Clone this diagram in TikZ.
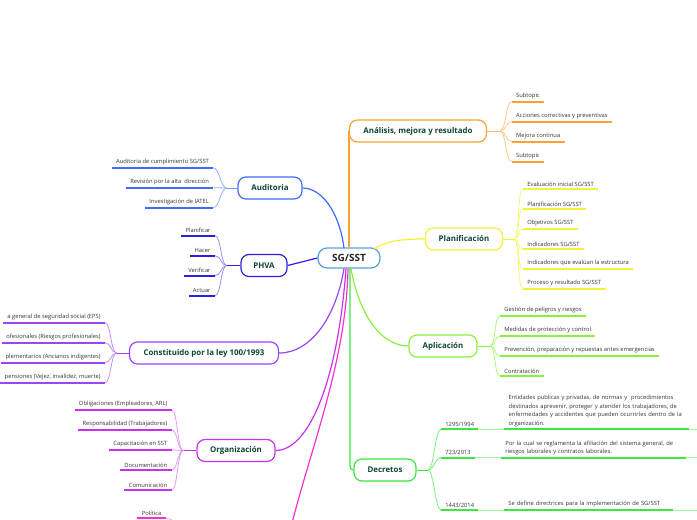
\documentclass[tikz,border=0pt]{standalone}
\usepackage{fontspec}
\setmainfont{Open Sans}
\usetikzlibrary{positioning}

\definecolor{topictext}{HTML}{0E4535}
\definecolor{cCen}{HTML}{5AA3D6}
\definecolor{cAna}{HTML}{F7A234}
\definecolor{cPla}{HTML}{F2F23A}
\definecolor{cApl}{HTML}{8BF03C}
\definecolor{cDec}{HTML}{3CE83C}
\definecolor{cAud}{HTML}{3D6BFF}
\definecolor{cPhv}{HTML}{2B1FE0}
\definecolor{cCon}{HTML}{9B45F5}
\definecolor{cOrg}{HTML}{C832EE}
\definecolor{cPol}{HTML}{FF2ECF}

\tikzset{
  mainnode/.style={draw=cCen, fill=white, line width=1.3pt, rounded corners=9pt,
    minimum width=62pt, minimum height=20pt, inner sep=0pt,
    font=\bfseries\fontsize{10}{12}\selectfont, text=black!85},
  topic/.style={draw, fill=white, line width=1.2pt, rounded corners=8pt,
    minimum height=22pt, inner sep=0pt, text=topictext,
    font=\bfseries\fontsize{7.9}{9}\selectfont},
  sub/.style={font=\fontsize{5.8}{8.4}\selectfont, text=black!80,
    inner xsep=4pt, inner ysep=2.5pt},
  uline/.style={line width=1.8pt},
  fan/.style={line width=0.8pt},
  branch/.style={line width=1.2pt},
}

\begin{document}
\begin{tikzpicture}[x=1pt,y=-1pt,thick]
\clip (0,0) rectangle (697,520);

% centre and main topics
\node[mainnode] (sg) at (349,258) {SG/SST};
\node[topic, draw=cAna, minimum width=137pt] (ana) at (418,131) {Análisis, mejora y resultado};
\node[topic, draw=cPla, minimum width=77pt] (pla) at (464,239) {Planificación};
\node[topic, draw=cApl, minimum width=68pt] (apl) at (443,346) {Aplicación};
\node[topic, draw=cDec, minimum width=62pt] (dec) at (385,470) {Decretos};
\node[topic, draw=cAud, minimum width=64pt] (aud) at (270,188) {Auditoria};
\node[topic, draw=cPhv, minimum width=46pt] (phv) at (264,265.5) {PHVA};
\node[topic, draw=cCon, minimum width=149pt] (con) at (204,353) {Constituido por la ley 100/1993};
\node[topic, draw=cOrg, minimum width=78pt] (org) at (236,450.5) {Organización};

% branches from the centre
\coordinate (sgN) at (344,248);
\coordinate (sgNE) at (374,249);
\coordinate (sgS) at (350,268);
\coordinate (pol) at (286,548);
\draw[branch, cAna] (sg.north) -- (sg.north |- ana.west) -- (ana.west);
\draw[branch, cPla] (sgNE) .. controls +(15,-9) and +(-22,0) .. (pla.west);
\draw[branch, cApl] ([xshift=2pt]sg.south) .. controls +(8,45) and +(-28,0) .. (apl.west);
\draw[branch, cDec] (sgS) -- (350,458) .. controls +(0,8) and +(-4,0) .. (dec.west);
\draw[branch, cAud] (sgN) .. controls +(-5,-38) and +(18,0) .. (aud.east);
\draw[branch, cPhv] (sg.west) -- (phv.east);
\draw[branch, cCon] ([xshift=-5pt]sg.south) .. controls +(-8,48) and +(32,0) .. (con.east);
\draw[branch, cOrg] ([xshift=-3pt]sg.south) .. controls +(-8,110) and +(34,0) .. (org.east);
\draw[branch, cPol] ([xshift=-1pt]sg.south) .. controls +(-2,100) and +(20,-90) .. (pol);

% Analisis, mejora y resultado
\node[sub, anchor=south west] (ana1) at (511.7,101.7) {Subtopic};
\node[sub, anchor=south west] (ana2) at (511.7,121.7) {Acciones correctivas y preventivas};
\node[sub, anchor=south west] (ana3) at (511.7,141.7) {Mejora continua};
\node[sub, anchor=south west] (ana4) at (511.7,161.7) {Subtopic};
\coordinate (anaH) at (500,131);
\draw[fan, cAna!70] (ana.east) -- (anaH);
\foreach \n in {ana1,ana2,ana3,ana4} {
  \draw[fan, cAna!60] (anaH) .. controls +(6,0) and +(-6,0) .. (\n.south west);
  \draw[uline, cAna] (\n.south west) -- (\n.south east);
}

% Planificacion
\node[sub, anchor=south west] (pla1) at (523,189) {Evaluación inicial SG/SST};
\node[sub, anchor=south west] (pla2) at (523,209) {Planificación SG/SST};
\node[sub, anchor=south west] (pla3) at (523,229) {Objetivos SG/SST};
\node[sub, anchor=south west] (pla4) at (523,249) {Indicadores SG/SST};
\node[sub, anchor=south west] (pla5) at (523,269) {Indicadores que evalúan la estructura};
\node[sub, anchor=south west] (pla6) at (523,289) {Proceso y resultado SG/SST};
\coordinate (plaH) at (514,239);
\draw[fan, cPla] (pla.east) -- (plaH);
\foreach \n in {pla1,pla2,pla3,pla4,pla5,pla6} {
  \draw[fan, cPla!70] (plaH) .. controls +(6,0) and +(-6,0) .. (\n.south west);
  \draw[uline, cPla] (\n.south west) -- (\n.south east);
}

% Aplicacion
\node[sub, anchor=south west] (apl1) at (500,316) {Gestión de peligros y riesgos};
\node[sub, anchor=south west] (apl2) at (500,336) {Medidas de protección y control};
\node[sub, anchor=south west] (apl3) at (500,356) {Prevención, preparación y repuestas antes emergencias};
\node[sub, anchor=south west] (apl4) at (500,376) {Contratación};
\coordinate (aplH) at (490,346);
\draw[fan, cApl] (apl.east) -- (aplH);
\foreach \n in {apl1,apl2,apl3,apl4} {
  \draw[fan, cApl!70] (aplH) .. controls +(6,0) and +(-6,0) .. (\n.south west);
  \draw[uline, cApl] (\n.south west) -- (\n.south east);
}

% Decretos
\node[sub, anchor=south west] (dec1) at (441,429.3) {1295/1994};
\node[sub, anchor=south west] (dec2) at (441,457.7) {723/2013};
\node[sub, anchor=south west] (dec3) at (441,510) {1443/2014};
\coordinate (decH) at (428,470);
\coordinate (e1) at (697,429.3);
\coordinate (e2) at (697,457.7);
\coordinate (e3) at (697,510);
\draw[fan, cDec] (dec.east) -- (decH);
\draw[line width=0.6pt, cDec!45] (dec1.south west) -- (e1);
\draw[line width=0.6pt, cDec!45] (dec2.south west) -- (e2);
\draw[line width=0.6pt, cDec!45] (dec3.south west) -- (e3);
\foreach \n in {dec1,dec2,dec3} {
  \draw[fan, cDec!70] (decH) .. controls +(6,0) and +(-6,0) .. (\n.south west);
  \draw[uline, cDec] (\n.south west) -- (\n.south east);
}
\node[sub, anchor=south west, text width=176pt, align=left] (dtx1) at (504.3,429.3)
  {Entidades publicas y privadas, de normas y~ procedimientos\\
   destinados aprevenir, proteger y atender los trabajadores, de\\
   enfermedades y accidentes que pueden ocurrirles dentro de la\\
   organización.};
\node[sub, anchor=south west, text width=176pt, align=left] (dtx2) at (501,457.7)
  {Por la cual se reglamenta la afiliación del sistema general, de\\
   riesgos laborales y contratos laborales.};
\node[sub, anchor=south west, text width=160pt, align=left] (dtx3) at (504,510)
  {Se define directrices para la implementación de SG/SST};
\foreach \n in {dtx1,dtx2,dtx3}
  \draw[uline, cDec] (\n.south west) -- (\n.south east);

% Auditoria
\node[sub, anchor=south east] (aud1) at (213.3,167.7) {Auditoria de cumplimiento SG/SST};
\node[sub, anchor=south east] (aud2) at (213.3,187.7) {Revisión por la alta~ dirección};
\node[sub, anchor=south east] (aud3) at (213.3,207.7) {Investigación de IATEL};
\coordinate (audH) at (226.7,188);
\draw[fan, cAud!70] (aud.west) -- (audH);
\foreach \n in {aud1,aud2,aud3} {
  \draw[fan, cAud!55] (audH) .. controls +(-6,0) and +(6,0) .. (\n.south east);
  \draw[uline, cAud] (\n.south west) -- (\n.south east);
}

% PHVA
\node[sub, anchor=south east] (phv1) at (215,235.7) {Planificar};
\node[sub, anchor=south east] (phv2) at (215,255.7) {Hacer};
\node[sub, anchor=south east] (phv3) at (215,275.7) {Verificar};
\node[sub, anchor=south east] (phv4) at (215,295.7) {Actuar};
\coordinate (phvH) at (226.7,265.5);
\draw[fan, cPhv] (phv.west) -- (phvH);
\foreach \n in {phv1,phv2,phv3,phv4} {
  \draw[fan, cPhv!50] (phvH) .. controls +(-6,0) and +(6,0) .. (\n.south east);
  \draw[uline, cPhv] (\n.south west) -- (\n.south east);
}

% Constituido por la ley 100/1993
\node[sub, anchor=south east] (con1) at (105,322.7) {a general de seguridad social (EPS)};
\node[sub, anchor=south east] (con2) at (105,342.7) {ofesionales (Riesgos profesionales)};
\node[sub, anchor=south east] (con3) at (105,362.7) {plementarios (Ancianos indigentes)};
\node[sub, anchor=south east] (con4) at (105,382.7) {pensiones (Vejez, invalidez, muerte)};
\coordinate (conH) at (116.7,353);
\draw[fan, cCon] (con.west) -- (conH);
\foreach \n in {con1,con2,con3,con4} {
  \draw[fan, cCon!60] (conH) .. controls +(-6,0) and +(6,0) .. (\n.south east);
  \draw[uline, cCon] (\n.south west) -- (\n.south east);
}

% Organizacion
\node[sub, anchor=south east] (org1) at (171.7,410) {Obligaciones (Empleadores, ARL)};
\node[sub, anchor=south east] (org2) at (171.7,430) {Responsabilidad (Trabajadores)};
\node[sub, anchor=south east] (org3) at (171.7,450) {Capacitación en SST};
\node[sub, anchor=south east] (org4) at (171.7,470) {Documentación};
\node[sub, anchor=south east] (org5) at (171.7,490) {Comunicación};
\coordinate (orgH) at (183.3,450.5);
\draw[fan, cOrg] (org.west) -- (orgH);
\foreach \n in {org1,org2,org3,org4,org5} {
  \draw[fan, cOrg!50] (orgH) .. controls +(-6,0) and +(6,0) .. (\n.south east);
  \draw[uline, cOrg] (\n.south west) -- (\n.south east);
}

% Politica
\node[sub, anchor=south east] (pol1) at (165.7,518.3) {Política};
\coordinate (polH) at (182,532);
\draw[uline, cPol] (pol1.south west) -- (pol1.south east);
\draw[fan, cPol!40] (pol1.south east) .. controls +(8,0) and +(-4,-6) .. (polH);
\end{tikzpicture}
\end{document}
